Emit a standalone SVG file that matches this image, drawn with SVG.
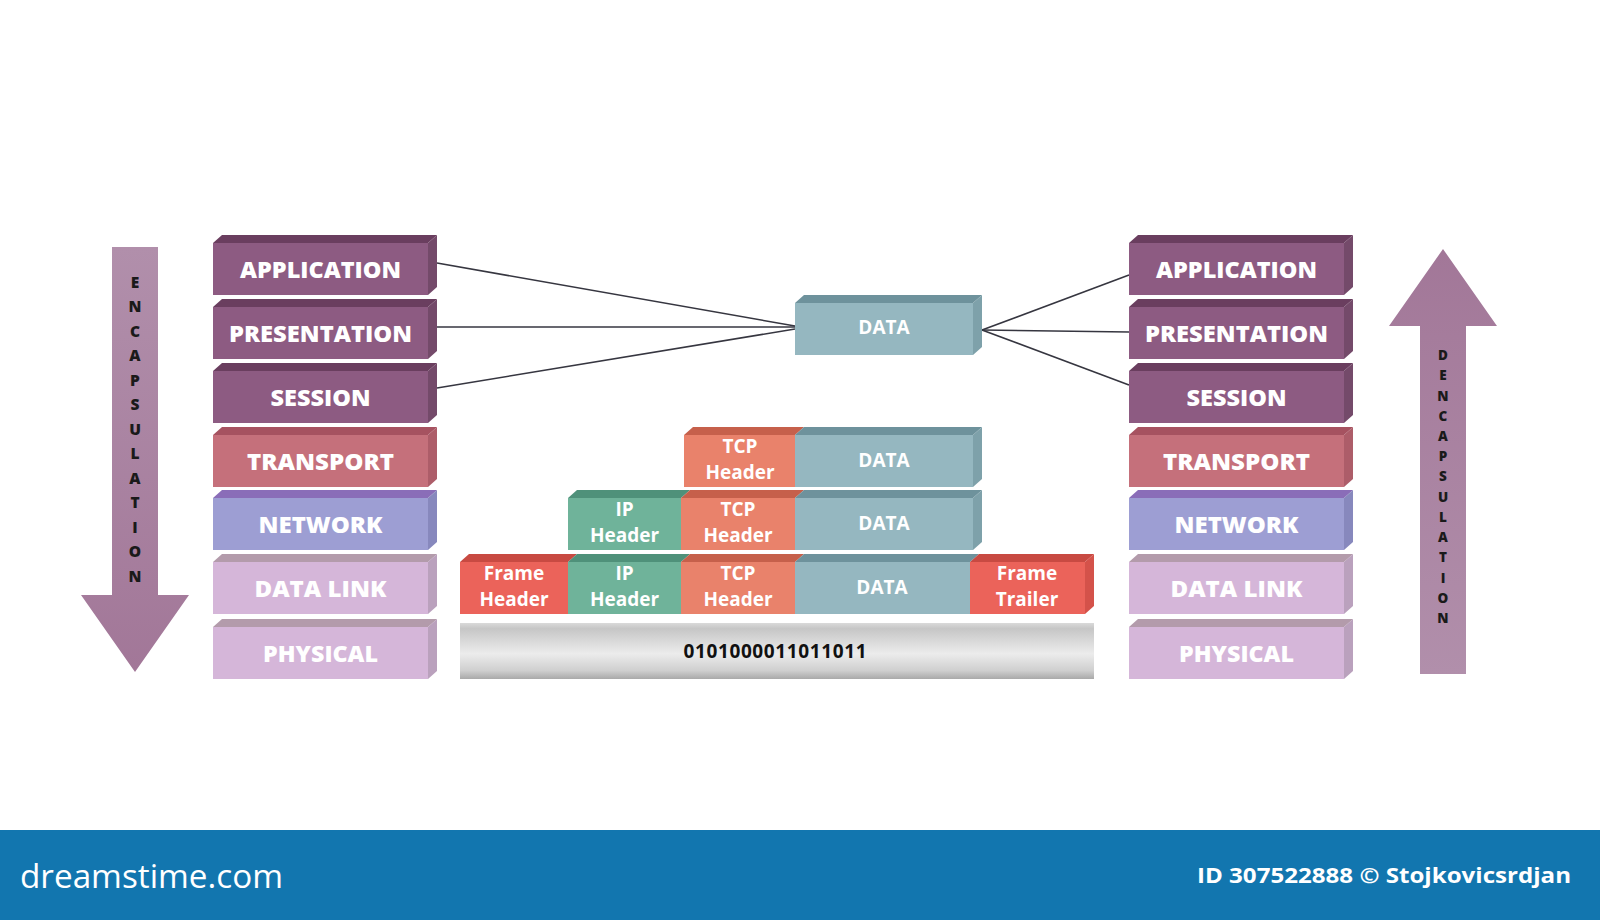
<svg xmlns="http://www.w3.org/2000/svg" xmlns:xlink="http://www.w3.org/1999/xlink" width="1600" height="920" viewBox="0 0 1600 920">
<defs>
<style>
.lbl{font-family:"Open Sans","Liberation Sans",sans-serif;font-weight:800;font-size:23.5px;fill:#ffffff;text-anchor:middle}
.seg{font-family:"Open Sans","Liberation Sans",sans-serif;font-weight:700;font-size:19px;fill:#ffffff;text-anchor:middle}
.dat{font-family:"Open Sans","Liberation Sans",sans-serif;font-weight:700;font-size:19px;fill:#ffffff;text-anchor:middle}
.let{font-family:"Open Sans","Liberation Sans",sans-serif;font-weight:800;fill:#1a1a1a;text-anchor:middle}
.bin{font-family:"Open Sans","Liberation Sans",sans-serif;font-weight:700;font-size:19px;fill:#111111;text-anchor:middle}
.conn{stroke:#363640;stroke-width:1.6;fill:none}
.pF{fill:#8d5b82}.pT{fill:#6a3e5f}.pS{fill:#744a6a}
.rF{fill:#c5707b}.rT{fill:#a65260}.rS{fill:#ad5d69}
.nF{fill:#9d9ed3}.nT{fill:#8a6db8}.nS{fill:#8788bd}
.lF{fill:#d5b6d9}.lT{fill:#b39bab}.lS{fill:#baa1bd}
.dF{fill:#95b7c0}.dT{fill:#6e929c}.dS{fill:#7ea1aa}
.tF{fill:#e9826b}.tT{fill:#c6604b}
.iF{fill:#6fb39a}.iT{fill:#4f917a}
.fF{fill:#eb635a}.fT{fill:#c84a42}.fS{fill:#d4524a}
</style>
<polygon id="ltop" points="0,0 9,-8 224,-8 215,0"/>
<polygon id="lside" points="215,0 224,-8 224,44 215,52"/>
<rect id="lfront" x="0" y="0" width="215" height="52"/>
<linearGradient id="arrowG" x1="0" y1="0" x2="0" y2="1">
<stop offset="0" stop-color="#b18fab"/>
<stop offset="1" stop-color="#a27798"/>
</linearGradient>
<linearGradient id="arrowG2" x1="0" y1="1" x2="0" y2="0">
<stop offset="0" stop-color="#b18fab"/>
<stop offset="1" stop-color="#a27798"/>
</linearGradient>
<linearGradient id="barG" x1="0" y1="0" x2="0" y2="1">
<stop offset="0" stop-color="#dadada"/>
<stop offset="0.1" stop-color="#c6c6c6"/>
<stop offset="0.55" stop-color="#ececec"/>
<stop offset="0.85" stop-color="#cfcfcf"/>
<stop offset="1" stop-color="#a9a9a9"/>
</linearGradient>
</defs>
<rect x="0" y="0" width="1600" height="920" fill="#ffffff"/>

<!-- connectors -->
<g id="connectors">
<line class="conn" x1="437" y1="263" x2="795" y2="326"/>
<line class="conn" x1="437" y1="327" x2="795" y2="327"/>
<line class="conn" x1="437" y1="388" x2="795" y2="329"/>
<line class="conn" x1="982" y1="330" x2="1129" y2="275"/>
<line class="conn" x1="982" y1="330" x2="1129" y2="332"/>
<line class="conn" x1="982" y1="330" x2="1129" y2="385"/>
</g>

<!-- encapsulation arrow -->
<g id="encap-arrow">
<polygon points="112,247 158,247 158,595 189,595 135,672 81,595 112,595" fill="url(#arrowG)"/>
<text class="let" font-size="15.5"><tspan x="135" y="287.5">E</tspan><tspan x="135" y="312">N</tspan><tspan x="135" y="336.5">C</tspan><tspan x="135" y="361">A</tspan><tspan x="135" y="385.5">P</tspan><tspan x="135" y="410">S</tspan><tspan x="135" y="434.5">U</tspan><tspan x="135" y="459">L</tspan><tspan x="135" y="483.5">A</tspan><tspan x="135" y="508">T</tspan><tspan x="135" y="532.5">I</tspan><tspan x="135" y="557">O</tspan><tspan x="135" y="581.5">N</tspan></text>
</g>

<!-- decapsulation arrow -->
<g id="decap-arrow">
<polygon points="1443,249 1497,326 1466,326 1466,674 1420,674 1420,326 1389,326" fill="url(#arrowG2)"/>
<text class="let" font-size="13.5"><tspan x="1443" y="360">D</tspan><tspan x="1443" y="380.2">E</tspan><tspan x="1443" y="400.5">N</tspan><tspan x="1443" y="420.7">C</tspan><tspan x="1443" y="440.9">A</tspan><tspan x="1443" y="461.2">P</tspan><tspan x="1443" y="481.4">S</tspan><tspan x="1443" y="501.6">U</tspan><tspan x="1443" y="521.8">L</tspan><tspan x="1443" y="542.1">A</tspan><tspan x="1443" y="562.3">T</tspan><tspan x="1443" y="582.5">I</tspan><tspan x="1443" y="602.8">O</tspan><tspan x="1443" y="623">N</tspan></text>
</g>

<!-- left stack -->
<g id="left-application" transform="translate(213,243)"><use xlink:href="#ltop" class="pT"/><use xlink:href="#lside" class="pS"/><use xlink:href="#lfront" class="pF"/><text class="lbl" x="107.5" y="34.5" textLength="161" lengthAdjust="spacingAndGlyphs">APPLICATION</text></g>
<g id="left-presentation" transform="translate(213,307)"><use xlink:href="#ltop" class="pT"/><use xlink:href="#lside" class="pS"/><use xlink:href="#lfront" class="pF"/><text class="lbl" x="107.5" y="34.5" textLength="183" lengthAdjust="spacingAndGlyphs">PRESENTATION</text></g>
<g id="left-session" transform="translate(213,371)"><use xlink:href="#ltop" class="pT"/><use xlink:href="#lside" class="pS"/><use xlink:href="#lfront" class="pF"/><text class="lbl" x="107.5" y="34.5" textLength="100" lengthAdjust="spacingAndGlyphs">SESSION</text></g>
<g id="left-transport" transform="translate(213,435)"><use xlink:href="#ltop" class="rT"/><use xlink:href="#lside" class="rS"/><use xlink:href="#lfront" class="rF"/><text class="lbl" x="107.5" y="34.5" textLength="147" lengthAdjust="spacingAndGlyphs">TRANSPORT</text></g>
<g id="left-network" transform="translate(213,498)"><use xlink:href="#ltop" class="nT"/><use xlink:href="#lside" class="nS"/><use xlink:href="#lfront" class="nF"/><text class="lbl" x="107.5" y="34.5" textLength="124" lengthAdjust="spacingAndGlyphs">NETWORK</text></g>
<g id="left-datalink" transform="translate(213,562)"><use xlink:href="#ltop" class="lT"/><use xlink:href="#lside" class="lS"/><use xlink:href="#lfront" class="lF"/><text class="lbl" x="107.5" y="34.5" textLength="132" lengthAdjust="spacingAndGlyphs">DATA LINK</text></g>
<g id="left-physical" transform="translate(213,627)"><use xlink:href="#ltop" class="lT"/><use xlink:href="#lside" class="lS"/><use xlink:href="#lfront" class="lF"/><text class="lbl" x="107.5" y="34.5" textLength="115" lengthAdjust="spacingAndGlyphs">PHYSICAL</text></g>

<!-- right stack -->
<g id="right-application" transform="translate(1129,243)"><use xlink:href="#ltop" class="pT"/><use xlink:href="#lside" class="pS"/><use xlink:href="#lfront" class="pF"/><text class="lbl" x="107.5" y="34.5" textLength="161" lengthAdjust="spacingAndGlyphs">APPLICATION</text></g>
<g id="right-presentation" transform="translate(1129,307)"><use xlink:href="#ltop" class="pT"/><use xlink:href="#lside" class="pS"/><use xlink:href="#lfront" class="pF"/><text class="lbl" x="107.5" y="34.5" textLength="183" lengthAdjust="spacingAndGlyphs">PRESENTATION</text></g>
<g id="right-session" transform="translate(1129,371)"><use xlink:href="#ltop" class="pT"/><use xlink:href="#lside" class="pS"/><use xlink:href="#lfront" class="pF"/><text class="lbl" x="107.5" y="34.5" textLength="100" lengthAdjust="spacingAndGlyphs">SESSION</text></g>
<g id="right-transport" transform="translate(1129,435)"><use xlink:href="#ltop" class="rT"/><use xlink:href="#lside" class="rS"/><use xlink:href="#lfront" class="rF"/><text class="lbl" x="107.5" y="34.5" textLength="147" lengthAdjust="spacingAndGlyphs">TRANSPORT</text></g>
<g id="right-network" transform="translate(1129,498)"><use xlink:href="#ltop" class="nT"/><use xlink:href="#lside" class="nS"/><use xlink:href="#lfront" class="nF"/><text class="lbl" x="107.5" y="34.5" textLength="124" lengthAdjust="spacingAndGlyphs">NETWORK</text></g>
<g id="right-datalink" transform="translate(1129,562)"><use xlink:href="#ltop" class="lT"/><use xlink:href="#lside" class="lS"/><use xlink:href="#lfront" class="lF"/><text class="lbl" x="107.5" y="34.5" textLength="132" lengthAdjust="spacingAndGlyphs">DATA LINK</text></g>
<g id="right-physical" transform="translate(1129,627)"><use xlink:href="#ltop" class="lT"/><use xlink:href="#lside" class="lS"/><use xlink:href="#lfront" class="lF"/><text class="lbl" x="107.5" y="34.5" textLength="115" lengthAdjust="spacingAndGlyphs">PHYSICAL</text></g>

<!-- standalone data -->
<g id="data-top">
<polygon class="dT" points="795,303 804,295 982,295 973,303"/>
<polygon class="dS" points="973,303 982,295 982,347 973,355"/>
<rect class="dF" x="795" y="303" width="178" height="52"/>
<text class="dat" x="884" y="334">DATA</text>
</g>

<!-- row 1: TCP + DATA -->
<g id="segment-row1">
<polygon class="tT" points="684,435 693,427 804,427 795,435"/>
<polygon class="dT" points="795,435 804,427 982,427 973,435"/>
<polygon class="dS" points="973,435 982,427 982,479 973,487"/>
<rect class="tF" x="684" y="435" width="111" height="52"/>
<rect class="dF" x="795" y="435" width="178" height="52"/>
<text class="seg" x="740" y="453">TCP</text>
<text class="seg" x="740" y="479">Header</text>
<text class="dat" x="884" y="467">DATA</text>
</g>

<!-- row 2: IP + TCP + DATA -->
<g id="packet-row2">
<polygon class="iT" points="568,498 577,490 690,490 681,498"/>
<polygon class="tT" points="681,498 690,490 804,490 795,498"/>
<polygon class="dT" points="795,498 804,490 982,490 973,498"/>
<polygon class="dS" points="973,498 982,490 982,542 973,550"/>
<rect class="iF" x="568" y="498" width="113" height="52"/>
<rect class="tF" x="681" y="498" width="114" height="52"/>
<rect class="dF" x="795" y="498" width="178" height="52"/>
<text class="seg" x="624.5" y="516">IP</text>
<text class="seg" x="624.5" y="542">Header</text>
<text class="seg" x="738" y="516">TCP</text>
<text class="seg" x="738" y="542">Header</text>
<text class="dat" x="884" y="530">DATA</text>
</g>

<!-- row 3: frame -->
<g id="frame-row3">
<polygon class="fT" points="460,562 469,554 577,554 568,562"/>
<polygon class="iT" points="568,562 577,554 690,554 681,562"/>
<polygon class="tT" points="681,562 690,554 804,554 795,562"/>
<polygon class="dT" points="795,562 804,554 979,554 970,562"/>
<polygon class="fT" points="970,562 979,554 1094,554 1085,562"/>
<polygon class="fS" points="1085,562 1094,554 1094,606 1085,614"/>
<rect class="fF" x="460" y="562" width="108" height="52"/>
<rect class="iF" x="568" y="562" width="113" height="52"/>
<rect class="tF" x="681" y="562" width="114" height="52"/>
<rect class="dF" x="795" y="562" width="175" height="52"/>
<rect class="fF" x="970" y="562" width="115" height="52"/>
<text class="seg" x="514" y="580">Frame</text>
<text class="seg" x="514" y="606">Header</text>
<text class="seg" x="624.5" y="580">IP</text>
<text class="seg" x="624.5" y="606">Header</text>
<text class="seg" x="738" y="580">TCP</text>
<text class="seg" x="738" y="606">Header</text>
<text class="dat" x="882" y="594">DATA</text>
<text class="seg" x="1027" y="580">Frame</text>
<text class="seg" x="1027" y="606">Trailer</text>
</g>

<!-- bits bar -->
<g id="bits">
<rect x="460" y="623" width="634" height="56" fill="url(#barG)"/>
<text class="bin" x="775" y="658" textLength="183" lengthAdjust="spacing">0101000011011011</text>
</g>

<!-- footer -->
<g id="footer">
<rect x="0" y="830" width="1600" height="90" fill="#1276af"/>
<text x="20" y="888" font-family="'Open Sans','Liberation Sans',sans-serif" font-size="33" fill="#ffffff" textLength="263" lengthAdjust="spacingAndGlyphs">dreamstime.com</text>
<text x="1197" y="883" font-family="'Open Sans','Liberation Sans',sans-serif" font-weight="700" font-size="22" fill="#ffffff" textLength="374" lengthAdjust="spacingAndGlyphs">ID 307522888 © Stojkovicsrdjan</text>
</g>
</svg>
